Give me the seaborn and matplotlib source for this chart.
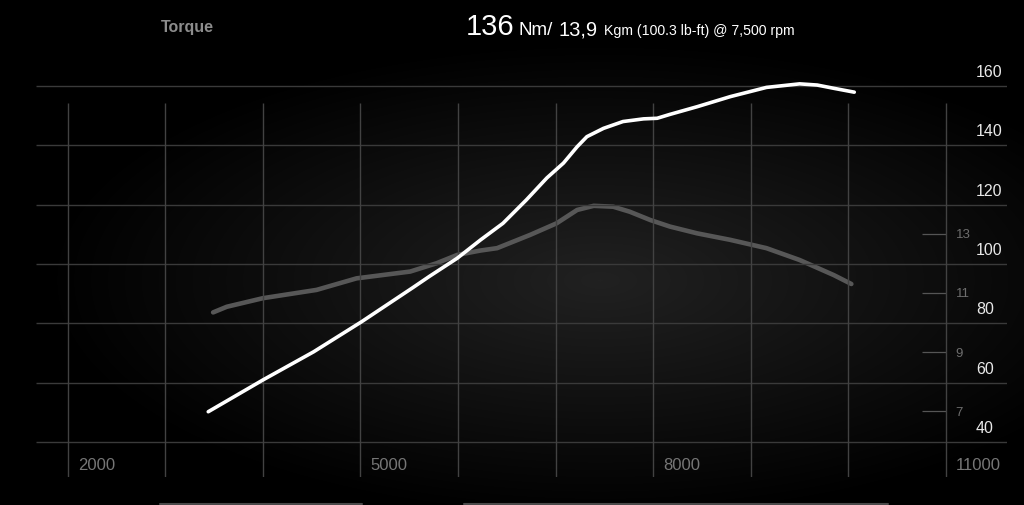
import numpy as np
import pandas as pd
import matplotlib
matplotlib.use("Agg")
import matplotlib.pyplot as plt
import matplotlib.transforms as mtransforms
from matplotlib.lines import Line2D
import seaborn as sns

# ---------------- data ----------------
power_rpm = [3440, 4000, 4520, 5010, 5540, 5710, 5990, 6230, 6460, 6700, 6910, 7080,
             7220, 7320, 7490, 7690, 7900, 8040, 8170, 8450, 8790, 9160, 9500, 9680,
             9850, 10060]
power_val = [50.2, 60.9, 70.4, 80.5, 92.1, 95.9, 101.9, 108.1, 113.7, 121.6, 129.0, 134.0,
             139.5, 142.9, 145.7, 148.0, 148.9, 149.1, 150.4, 153.0, 156.4, 159.5, 160.7, 160.3,
             159.2, 157.9]

torque_rpm = [3490, 3630, 4000, 4550, 4960, 5510, 5780, 5990, 6230, 6400, 6740, 7010,
              7220, 7390, 7590, 7760, 7970, 8170, 8450, 8790, 9160, 9500, 9850, 10030]
torque_kgm = [10.34, 10.53, 10.82, 11.10, 11.49, 11.72, 12.00, 12.28, 12.43, 12.51, 12.96, 13.35,
              13.80, 13.94, 13.91, 13.74, 13.46, 13.24, 13.01, 12.79, 12.51, 12.11, 11.60, 11.30]

grid_rpm = [2000, 3000, 4000, 5000, 6000, 7000, 8000, 9000, 10000, 11000]
x_tick_rpm = [2000, 5000, 8000, 11000]
x_tick_labels = ["2000", "5000", "8000", "11000"]
left_ticks = [40, 60, 80, 100, 120, 140, 160]
right_ticks = [7, 9, 11, 13]
right_axis_rpm = 11000

power_df = pd.DataFrame({"rpm": power_rpm, "value": power_val})
torque_df = pd.DataFrame({"rpm": torque_rpm, "kgm": torque_kgm})

# ---------------- style ----------------
sns.set_style("dark", rc={"axes.facecolor": "none", "figure.facecolor": "black",
                          "axes.grid": False})
plt.rcParams["font.family"] = ["Liberation Sans", "DejaVu Sans"]

W, H = 1024, 505
fig = plt.figure(figsize=(W / 100, H / 100), dpi=100, facecolor="black")

# background radial glow
bg = fig.add_axes([0, 0, 1, 1], zorder=-5)
yy, xx = np.mgrid[0:H, 0:W]
r = np.sqrt(((xx - 600) / 560) ** 2 + ((yy - 280) / 240) ** 2)
g = 0.13 * np.clip(1 - r, 0, 1) ** 1.0
bg.imshow(np.dstack([g, g, g]), extent=(0, W, H, 0), aspect="auto",
          interpolation="bilinear")
bg.set_axis_off()


def px_rect(l, t, rr, b):
    return [l / W, 1 - b / H, (rr - l) / W, (b - t) / H]


ax = fig.add_axes(px_rect(36, 80, 1007, 477), zorder=0)
ax.patch.set_alpha(0)
ax.set_xlim(1675, 11625)
ax.set_ylim(28.2, 162.0)

# grid
ax.hlines(left_ticks, 0, 1, transform=ax.get_yaxis_transform(),
          color="#3a3a3a", lw=1.0, zorder=1)
ax.vlines(grid_rpm, 0, (477 - 103) / 397, transform=ax.get_xaxis_transform(),
          color="#424242", lw=1.0, zorder=1)

# power (white)
sns.lineplot(data=power_df, x="rpm", y="value", ax=ax, color="white",
             lw=2.6, zorder=5, solid_capstyle="round", solid_joinstyle="round")

# torque (gray) on secondary axis
ax2 = ax.twinx()
ax2.set_zorder(-1)
ax2.patch.set_visible(False)
sns.lineplot(data=torque_df, x="rpm", y="kgm", ax=ax2, color="#575757",
             lw=3.3, solid_capstyle="round", solid_joinstyle="round")
ax2.set_ylim(4.78, 18.19)
ax2.set_yticks(right_ticks)
ax2.spines["right"].set_position(("data", right_axis_rpm))
for s in ax2.spines.values():
    s.set_visible(False)
ax2.tick_params(axis="y", direction="in", length=17.5, width=0.9, color="#555555",
                pad=7, labelsize=9.5, labelcolor="#6e6e6e")
ax2.set_ylabel("")

for s in ax.spines.values():
    s.set_visible(False)
ax.set_xlabel("")
ax.set_ylabel("")

# primary y ticks (labels inside, above lines)
ax.yaxis.tick_right()
ax.set_yticks(left_ticks)
ax.tick_params(axis="y", length=0, pad=0, labelsize=11.5, labelcolor="#e8e8e8")
off_y = mtransforms.ScaledTranslation(-31 / 100, 15 / 100, fig.dpi_scale_trans)
for lbl in ax.get_yticklabels():
    lbl.set_ha("left")
    lbl.set_transform(lbl.get_transform() + off_y)

# x ticks
ax.set_xticks(x_tick_rpm, x_tick_labels)
ax.tick_params(axis="x", length=0, pad=0, labelsize=12, labelcolor="#767676")
off_x = mtransforms.ScaledTranslation(10 / 100, 12 / 100, fig.dpi_scale_trans)
for lbl in ax.get_xticklabels():
    lbl.set_ha("left")
    lbl.set_va("center")
    lbl.set_transform(lbl.get_transform() + off_x)

# header texts
def ftext(x, y, s, **kw):
    fig.text(x / W, 1 - y / H, s, va="baseline", ha="left", **kw)


ftext(161, 32, "Torque", fontsize=11.5, fontweight="bold", color="#8c8c8c")
ftext(466, 35, "136", fontsize=21, color="white")
ftext(519, 35, "Nm/", fontsize=13.5, color="white")
ftext(558, 35, "13,9", fontsize=14.5, color="white")
ftext(604, 35, "Kgm (100.3 lb-ft) @ 7,500 rpm", fontsize=10.2, color="white")

# bottom strip lines
for a, b in [(160, 362), (464, 888)]:
    fig.add_artist(Line2D([a / W, b / W], [1 - 504 / H, 1 - 504 / H],
                          transform=fig.transFigure, color="#4a4a4a", lw=1.5))

fig.savefig("out.png", dpi=100, facecolor="black")
